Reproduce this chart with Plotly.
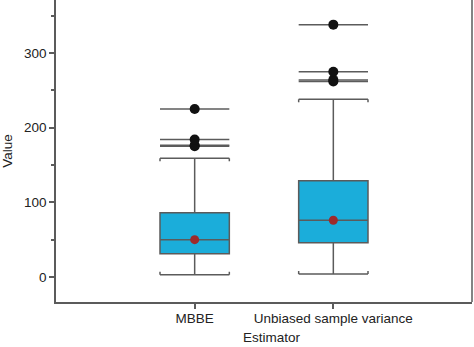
import plotly.graph_objects as go

categories = ["MBBE", "Unbiased sample variance"]
lower_whisker = [3, 4]
q1 = [31, 46]
median = [50, 76]
q3 = [86, 129]
upper_whisker = [159, 238]
means = [50, 76]
outliers = {
    "MBBE": [175, 176.5, 184, 225],
    "Unbiased sample variance": [262, 264, 275, 338],
}
yticks = [0, 100, 200, 300]

LINE = "#5b5b5b"
FILL = "#1badda"
MEAN = "#9e2a2b"
FONT = "Liberation Sans, Arial, sans-serif"
BOXW = 0.5
FS = 13.5

pos = list(range(len(categories)))

fig = go.Figure()

fig.add_trace(go.Box(
    x=pos,
    q1=q1, median=median, q3=q3,
    lowerfence=lower_whisker, upperfence=upper_whisker,
    boxpoints=False,
    width=BOXW,
    whiskerwidth=1,
    fillcolor=FILL,
    line=dict(color=LINE, width=1.5),
    showlegend=False,
    hoverinfo="skip",
))

# small serifs at whisker cap ends
sx, sy, sp, sm = [], [], [], []
for i in pos:
    for dx in (-BOXW / 2, BOXW / 2):
        sx += [i + dx, i + dx]
        sy += [upper_whisker[i], lower_whisker[i]]
        sp += [0, 4]
        sm += [4, 0]
fig.add_trace(go.Scatter(
    x=sx, y=sy, mode="markers", marker=dict(size=1, color="rgba(0,0,0,0)"),
    error_y=dict(type="data", symmetric=False, array=sp, arrayminus=sm,
                 width=0, thickness=1.5, color=LINE),
    showlegend=False, hoverinfo="skip",
))

# outliers with horizontal lines across the box width
ox, oy = [], []
for i, c in enumerate(categories):
    for v in outliers[c]:
        ox.append(i)
        oy.append(v)
fig.add_trace(go.Scatter(
    x=ox, y=oy, mode="markers",
    marker=dict(color="#111111", size=10),
    error_x=dict(type="constant", value=BOXW / 2, width=0, thickness=1.5, color=LINE),
    showlegend=False,
))

# mean markers
fig.add_trace(go.Scatter(
    x=pos, y=means, mode="markers",
    marker=dict(color=MEAN, size=9),
    showlegend=False,
))

fig.update_layout(
    width=474, height=347,
    margin=dict(l=56, r=2, t=0, b=45),
    paper_bgcolor="white", plot_bgcolor="white",
    font=dict(family=FONT, size=FS, color="#222222"),
    xaxis=dict(
        range=[-1, 2], showline=True, linecolor=LINE, linewidth=1.5,
        tickvals=pos, ticktext=categories, tickfont=dict(size=FS),
        ticks="outside", ticklen=5, tickcolor=LINE, tickwidth=1.5,
        ticklabelstandoff=-2,
        showgrid=False, zeroline=False,
    ),
    yaxis=dict(
        range=[-33.5, 371], showline=True, linecolor=LINE, linewidth=1.5,
        tickvals=yticks, tickfont=dict(size=FS),
        ticks="outside", ticklen=5, tickcolor=LINE, tickwidth=1.5,
        minor=dict(dtick=50, ticks="outside", ticklen=3, tickcolor=LINE, tickwidth=1.5, showgrid=False),
        showgrid=False, zeroline=False,
        title=dict(text="Value", standoff=8, font=dict(size=FS)),
    ),
    annotations=[dict(text="Estimator", xref="paper", yref="paper", x=0.519, y=-0.119,
                      xanchor="center", yanchor="middle", showarrow=False,
                      font=dict(size=FS))],
    shapes=[dict(type="line", xref="paper", yref="paper", x0=1, x1=1, y0=0, y1=1,
                 line=dict(color=LINE, width=1.5))],
)

fig.write_html("out.html")
